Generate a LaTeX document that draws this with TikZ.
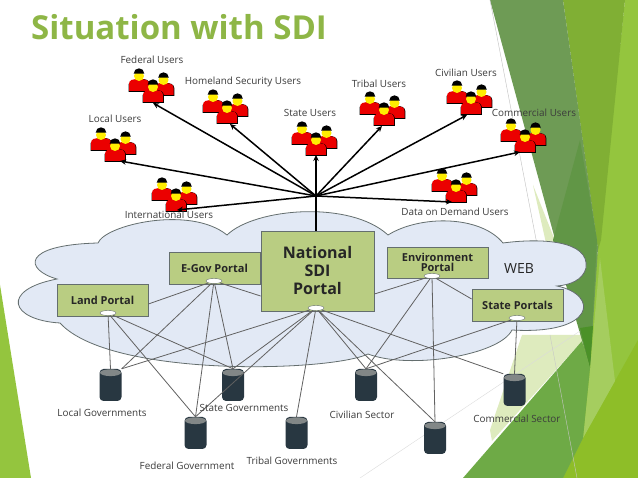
\documentclass[tikz,border=0pt]{standalone}
\usepackage{fontspec}
\setmainfont{Open Sans}
\usetikzlibrary{shapes.geometric,arrows.meta}

\definecolor{titlegreen}{RGB}{142,182,70}
\definecolor{darkband}{RGB}{110,155,85}
\definecolor{darkerband}{RGB}{97,150,70}
\definecolor{darkesttip}{RGB}{75,145,40}
\definecolor{midband}{RGB}{128,175,52}
\definecolor{limeband}{RGB}{148,197,62}
\definecolor{limelow}{RGB}{142,190,40}
\definecolor{paleband}{RGB}{222,235,190}
\definecolor{paleband2}{RGB}{165,205,95}
\definecolor{leafgreen}{RGB}{110,170,70}
\definecolor{cloudfill}{RGB}{226,233,245}
\definecolor{cloudline}{RGB}{100,110,110}
\definecolor{portalfill}{RGB}{185,205,130}
\definecolor{dbbody}{RGB}{40,55,65}
\definecolor{dbtop}{RGB}{130,135,135}
\definecolor{labeltext}{RGB}{60,60,60}

\tikzset{
  portal/.style={draw=cloudline,fill=portalfill,line width=.8pt,inner sep=0pt,align=center,
    text=black!85,font=\fontsize{11}{11}\selectfont\bfseries},
  port/.style={draw=cloudline,fill=white,ellipse,minimum width=16pt,minimum height=5pt,inner sep=0pt},
  dbase/.style={rectangle,rounded corners=4pt,fill=dbbody,minimum width=22pt,minimum height=32pt,inner sep=0pt,
    path picture={\fill[dbtop] (path picture bounding box.north) ++(0,3.7) ellipse [x radius=10.5,y radius=3.4];}},
  tag/.style={text=labeltext,inner sep=0pt,font=\fontsize{9.9}{10}\selectfont},
  feed/.style={-{Stealth[length=6pt,width=5.5pt]},line width=1.5pt,black},
  link/.style={draw=black!62,line width=.8pt},
  usergroup/.pic={
    \userfigure{-14}{-11}
    \userfigure{10.5}{-7}
    \userfigure{0}{0}
  }
}

\newcommand{\userfigure}[2]{
  \begin{scope}[shift={(#1,#2)}]
    \fill[black] (-10.5,.8) -- (10.8,.8) -- (10.8,-7) .. controls (10.8,-11) and (6,-12) .. (3,-12) -- (-3,-12) -- (-10.5,-7) -- cycle;
    \fill[red!92!black] (-10,0) -- (10,0) -- (10,-7) .. controls (10,-11) and (6,-12) .. (3,-12) -- (-3,-12) .. controls (-6,-12) and (-10,-11) .. (-10,-7) -- cycle;
    \fill[yellow!95!orange] (0,-15) circle [radius=5];
    \fill[black] (-5.3,-17.4) arc [start angle=180,end angle=360,x radius=5.3,y radius=5.3] -- cycle;
  \end{scope}
}

\begin{document}
\begin{tikzpicture}[x=1pt,y=-1pt]
  \useasboundingbox (0,0) rectangle (638,478);

  % slide background
  \fill[white] (0,0) rectangle (638,478);
  \fill[limeband] (0,285) -- (31,478) -- (0,478) -- cycle;
  \fill[paleband] (533,185) -- (556,243) -- (546,243) -- cycle;
  \fill[paleband] (522,335) -- (582,335) -- (582,341) -- (492,441) -- (490,430) -- cycle;
  \fill[limeband] (625,0) -- (638,0) -- (638,478) -- (563,478) -- (598,250) -- cycle;
  \fill[limelow] (583,438) -- (615,381) -- (638,340) -- (638,478) -- (563,478) -- cycle;
  \fill[midband] (563,0) -- (625,0) -- (601,240) -- (598,250) -- cycle;
  \fill[darkband] (490,0) -- (563,0) -- (598,248) -- (590,368) -- cycle;
  \fill[darkerband] (553,240) -- (580,140) -- (597,240) -- (590,368) -- cycle;
  \fill[darkesttip] (580,328) -- (593,326) -- (590,368) -- cycle;
  \fill[paleband2] (600,258) -- (615,381) -- (583,438) -- (590,371) -- cycle;
  \fill[leafgreen] (463,478) -- (582,341) -- (590,368) -- (583,438) -- (563,478) -- cycle;
  \draw[black!25,line width=.4pt] (490,0) -- (540,260);
  \draw[black!14,line width=.4pt] (360,478) -- (580,331);
  \draw[black!22,line width=.4pt] (550,335) -- (577,478);

  \node[anchor=base west,inner sep=0pt,text=titlegreen,font=\fontsize{33}{34}\selectfont\bfseries] (title) at (31,40) {Situation with SDI};

  % cloud
  \draw[cloudline,fill=cloudfill,line width=.8pt] (57,279)
    .. controls (25,270) and (20,245) .. (98,243)
    .. controls (105,225) and (190,205) .. (227,235)
    .. controls (255,208) and (350,200) .. (388,235)
    .. controls (420,215) and (480,215) .. (503,243)
    .. controls (540,238) and (590,240) .. (586,268)
    .. controls (583,280) and (570,285) .. (557,286)
    .. controls (600,295) and (595,335) .. (512,330)
    .. controls (500,355) and (410,370) .. (368,354)
    .. controls (330,372) and (110,378) .. (60,323)
    .. controls (10,320) and (0,290) .. (57,279) -- cycle;

  \node[text=black!85,inner sep=0pt,font=\fontsize{14}{14}\selectfont] (web) at (519,269) {WEB};

  % portals
  \node[portal,minimum width=91pt,minimum height=32pt] (land) at (102.5,300) {Land Portal};
  \node[portal,minimum width=91pt,minimum height=32pt] (egov) at (214.5,268) {E-Gov Portal};
  \node[portal,minimum width=113pt,minimum height=80pt,font=\fontsize{16}{18}\selectfont\bfseries] (national) at (317.5,271) {National\\SDI\\Portal};
  \node[portal,minimum width=101pt,minimum height=31pt,font=\fontsize{11}{9.5}\selectfont\bfseries] (environment) at (437.5,262.5) {Environment\\Portal};
  \node[portal,minimum width=91pt,minimum height=32pt] (stateportal) at (517.5,305) {State Portals};

  % databases
  \node[dbase] (localdb) at (110.5,385) {};
  \node[dbase] (statedb) at (233,385) {};
  \node[dbase] (federaldb) at (195.5,433) {};
  \node[dbase] (tribaldb) at (296.5,433) {};
  \node[dbase] (civiliandb) at (366,385) {};
  \node[dbase] (otherdb) at (435,438) {};
  \node[dbase] (commercialdb) at (514.5,390) {};

  % ports
  \node[port] (landport) at (108,313) {};
  \node[port] (egovport) at (214,281) {};
  \node[port] (nationalport) at (316,308) {};
  \node[port] (envport) at (432,276) {};
  \node[port] (stateport) at (517,318) {};

  % links between portals
  \draw[link] (land.east |- 0,304) -- (egovport);
  \draw[link] (egovport) -- (national.west |- 0,296);
  \draw[link] (national.east |- 0,294) -- (envport);
  \draw[link] (envport) -- (stateportal.west |- 0,299);

  % links down to the databases
  \draw[link] (landport) -- (localdb.north);
  \draw[link] (landport) -- (statedb.north);
  \draw[link] (landport) -- (federaldb.north);
  \draw[link] (egovport) -- (localdb.north east);
  \draw[link] (egovport) -- (federaldb.north);
  \draw[link] (egovport) -- (statedb.north);
  \draw[link] (nationalport) -- (localdb.north east);
  \draw[link] (nationalport) -- (statedb.north);
  \draw[link] (nationalport) -- (federaldb.north);
  \draw[link] (nationalport) -- (tribaldb.north);
  \draw[link] (nationalport) -- (civiliandb.north);
  \draw[link] (nationalport) -- (otherdb.north);
  \draw[link] (nationalport) -- (commercialdb.north west);
  \draw[link] (envport) -- (civiliandb.north);
  \draw[link] (envport) -- (otherdb.north);
  \draw[link] (stateport) -- (civiliandb.north);
  \draw[link] (stateport) -- (commercialdb.north);

  % user groups
  \pic at (153,102) {usergroup};
  \pic at (227,123) {usergroup};
  \pic at (115,161) {usergroup};
  \pic at (176,211) {usergroup};
  \pic at (316,155) {usergroup};
  \pic at (384,125) {usergroup};
  \pic at (471,114) {usergroup};
  \pic at (525,152) {usergroup};
  \pic at (456,202) {usergroup};

  % arrows out of the hub
  \coordinate (hub) at (316,196);
  \coordinate (federal) at (153,103);
  \coordinate (homeland) at (230,124);
  \coordinate (local) at (120,161);
  \coordinate (international) at (177,210);
  \coordinate (state) at (316,155);
  \coordinate (tribal) at (382,126);
  \coordinate (civilian) at (467,115);
  \coordinate (commercial) at (520,152);
  \coordinate (demand) at (452,202);
  \draw[feed] (hub) -- (federal);
  \draw[feed] (hub) -- (homeland);
  \draw[feed] (hub) -- (local);
  \draw[feed] (hub) -- (international);
  \draw[feed] (hub) -- (state);
  \draw[feed] (hub) -- (tribal);
  \draw[feed] (hub) -- (civilian);
  \draw[feed] (hub) -- (commercial);
  \draw[feed] (hub) -- (demand);
  \draw[line width=1.5pt] (316,231) -- (hub);

  % labels
  \node[tag] (lfederal) at (152,60) {Federal Users};
  \node[tag] (lhomeland) at (243,82) {Homeland Security Users};
  \node[tag] (llocal) at (115,119) {Local Users};
  \node[tag] (linternational) at (169,215) {International Users};
  \node[tag] (lstate) at (310,113) {State Users};
  \node[tag] (ltribal) at (379,84) {Tribal Users};
  \node[tag] (lcivilian) at (466,73) {Civilian Users};
  \node[tag] (lcommercial) at (534,113) {Commercial Users};
  \node[tag] (ldemand) at (455,212) {Data on Demand Users};
  \node[tag] (llocalgov) at (102,413) {Local Governments};
  \node[tag] (lstategov) at (244,408) {State Governments};
  \node[tag] (lfederalgov) at (187,466) {Federal Government};
  \node[tag] (ltribalgov) at (292,461) {Tribal Governments};
  \node[tag] (lcivsector) at (362,415) {Civilian Sector};
  \node[tag] (lcomsector) at (517,419) {Commercial Sector};
\end{tikzpicture}
\end{document}
